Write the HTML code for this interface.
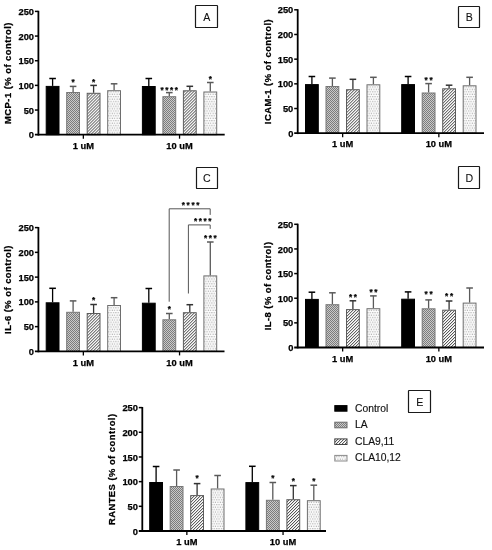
<!DOCTYPE html>
<html><head><meta charset="utf-8"><title>Figure</title>
<style>
html,body{margin:0;padding:0;background:#fff;}
body{width:492px;height:550px;overflow:hidden;}
svg{display:block;}
.tk{font-family:"Liberation Sans",sans-serif;font-weight:bold;font-size:9.3px;fill:#000;stroke:#000;stroke-width:0.25px;}
.yl{font-family:"Liberation Sans",sans-serif;font-weight:bold;font-size:9.4px;letter-spacing:0.48px;fill:#000;stroke:#000;stroke-width:0.25px;}
.st{font-family:"Liberation Sans",sans-serif;font-weight:bold;font-size:8.2px;fill:#000;stroke:#000;stroke-width:0.2px;letter-spacing:1.6px;}
.bx{font-family:"Liberation Sans",sans-serif;font-size:11.8px;fill:#111;stroke:#111;stroke-width:0.1px;}
.lg{font-family:"Liberation Sans",sans-serif;font-size:10.3px;fill:#111;stroke:#111;stroke-width:0.15px;}
</style></head>
<body>
<svg width="492" height="550" viewBox="0 0 492 550">
<defs>
<pattern id="pLA" width="2" height="2" patternUnits="userSpaceOnUse">
<rect width="2" height="2" fill="#cacaca"/><rect width="1" height="1" fill="#7c7c7c"/><rect x="1" y="1" width="1" height="1" fill="#7c7c7c"/>
</pattern>
<pattern id="pC911" width="2.12" height="2.12" patternUnits="userSpaceOnUse" patternTransform="rotate(45)">
<rect width="2.12" height="2.12" fill="#fff"/><rect width="0.85" height="2.12" fill="#555"/>
</pattern>
<pattern id="pC1012" width="2.4" height="4.8" patternUnits="userSpaceOnUse">
<rect width="2.4" height="4.8" fill="#fcfcfc"/><rect x="0.2" y="0.2" width="1" height="1" fill="#979797"/><rect x="1.4" y="2.6" width="1" height="1" fill="#979797"/>
</pattern>
</defs>
<rect width="492" height="550" fill="#fff"/>
<g>
<line x1="52.6" y1="85.9" x2="52.6" y2="78.5" stroke="#000" stroke-width="1.3"/>
<line x1="49.3" y1="78.5" x2="55.9" y2="78.5" stroke="#000" stroke-width="1.5"/>
<rect x="46.2" y="86.4" width="12.8" height="48.3" fill="#000" stroke="#000" stroke-width="1"/>
<line x1="73.1" y1="92" x2="73.1" y2="86.4" stroke="#5a5a5a" stroke-width="1.3"/>
<line x1="69.8" y1="86.4" x2="76.4" y2="86.4" stroke="#5a5a5a" stroke-width="1.5"/>
<rect x="66.7" y="92.5" width="12.8" height="42.2" fill="url(#pLA)" stroke="#777" stroke-width="1"/>
<text x="73.9" y="85" class="st" text-anchor="middle">*</text>
<line x1="93.6" y1="92.8" x2="93.6" y2="85.4" stroke="#333" stroke-width="1.3"/>
<line x1="90.3" y1="85.4" x2="96.9" y2="85.4" stroke="#333" stroke-width="1.5"/>
<rect x="87.2" y="93.3" width="12.8" height="41.4" fill="url(#pC911)" stroke="#5c5c5c" stroke-width="1"/>
<text x="94.4" y="85" class="st" text-anchor="middle">*</text>
<line x1="114.1" y1="90.2" x2="114.1" y2="83.8" stroke="#5a5a5a" stroke-width="1.3"/>
<line x1="110.8" y1="83.8" x2="117.4" y2="83.8" stroke="#5a5a5a" stroke-width="1.5"/>
<rect x="107.7" y="90.7" width="12.8" height="44" fill="url(#pC1012)" stroke="#6e6e6e" stroke-width="1"/>
<line x1="148.8" y1="86" x2="148.8" y2="78.5" stroke="#000" stroke-width="1.3"/>
<line x1="145.5" y1="78.5" x2="152.1" y2="78.5" stroke="#000" stroke-width="1.5"/>
<rect x="142.4" y="86.5" width="12.8" height="48.2" fill="#000" stroke="#000" stroke-width="1"/>
<line x1="169.3" y1="96.2" x2="169.3" y2="92.6" stroke="#5a5a5a" stroke-width="1.3"/>
<line x1="166" y1="92.6" x2="172.6" y2="92.6" stroke="#5a5a5a" stroke-width="1.5"/>
<rect x="162.9" y="96.7" width="12.8" height="38" fill="url(#pLA)" stroke="#777" stroke-width="1"/>
<text x="170.1" y="93" class="st" text-anchor="middle">****</text>
<line x1="189.8" y1="90.3" x2="189.8" y2="86.3" stroke="#333" stroke-width="1.3"/>
<line x1="186.5" y1="86.3" x2="193.1" y2="86.3" stroke="#333" stroke-width="1.5"/>
<rect x="183.4" y="90.8" width="12.8" height="43.9" fill="url(#pC911)" stroke="#5c5c5c" stroke-width="1"/>
<line x1="210.3" y1="91.5" x2="210.3" y2="82.5" stroke="#5a5a5a" stroke-width="1.3"/>
<line x1="207" y1="82.5" x2="213.6" y2="82.5" stroke="#5a5a5a" stroke-width="1.5"/>
<rect x="203.9" y="92" width="12.8" height="42.7" fill="url(#pC1012)" stroke="#6e6e6e" stroke-width="1"/>
<text x="211.1" y="82.1" class="st" text-anchor="middle">*</text>
<line x1="38.4" y1="10.8" x2="38.4" y2="135.6" stroke="#000" stroke-width="1.8"/>
<line x1="34.9" y1="134.7" x2="224.7" y2="134.7" stroke="#000" stroke-width="1.8"/>
<text x="34" y="138.3" class="tk" text-anchor="end">0</text>
<line x1="34.9" y1="110.04" x2="38.4" y2="110.04" stroke="#000" stroke-width="1.5"/>
<text x="34" y="113.64" class="tk" text-anchor="end">50</text>
<line x1="34.9" y1="85.38" x2="38.4" y2="85.38" stroke="#000" stroke-width="1.5"/>
<text x="34" y="88.98" class="tk" text-anchor="end">100</text>
<line x1="34.9" y1="60.72" x2="38.4" y2="60.72" stroke="#000" stroke-width="1.5"/>
<text x="34" y="64.32" class="tk" text-anchor="end">150</text>
<line x1="34.9" y1="36.06" x2="38.4" y2="36.06" stroke="#000" stroke-width="1.5"/>
<text x="34" y="39.66" class="tk" text-anchor="end">200</text>
<line x1="34.9" y1="11.4" x2="38.4" y2="11.4" stroke="#000" stroke-width="1.5"/>
<text x="34" y="15" class="tk" text-anchor="end">250</text>
<line x1="83.35" y1="134.7" x2="83.35" y2="138.7" stroke="#000" stroke-width="1.3"/>
<text x="83.35" y="148.6" class="tk" text-anchor="middle">1 uM</text>
<line x1="179.55" y1="134.7" x2="179.55" y2="138.7" stroke="#000" stroke-width="1.3"/>
<text x="179.55" y="148.6" class="tk" text-anchor="middle">10 uM</text>
<text transform="translate(11.3,73.05) rotate(-90)" class="yl" text-anchor="middle">MCP-1 (% of control)</text>
<rect x="195.5" y="5.5" width="22" height="22" rx="0.6" fill="#fff" stroke="#1a1a1a" stroke-width="1.2"/>
<text transform="translate(206.7,21.15) scale(0.9,1)" class="bx" text-anchor="middle">A</text>
</g>
<g>
<line x1="311.9" y1="84.1" x2="311.9" y2="76.5" stroke="#000" stroke-width="1.3"/>
<line x1="308.6" y1="76.5" x2="315.2" y2="76.5" stroke="#000" stroke-width="1.5"/>
<rect x="305.5" y="84.6" width="12.8" height="48.6" fill="#000" stroke="#000" stroke-width="1"/>
<line x1="332.4" y1="86" x2="332.4" y2="78.1" stroke="#5a5a5a" stroke-width="1.3"/>
<line x1="329.1" y1="78.1" x2="335.7" y2="78.1" stroke="#5a5a5a" stroke-width="1.5"/>
<rect x="326" y="86.5" width="12.8" height="46.7" fill="url(#pLA)" stroke="#777" stroke-width="1"/>
<line x1="352.9" y1="89.2" x2="352.9" y2="79.3" stroke="#333" stroke-width="1.3"/>
<line x1="349.6" y1="79.3" x2="356.2" y2="79.3" stroke="#333" stroke-width="1.5"/>
<rect x="346.5" y="89.7" width="12.8" height="43.5" fill="url(#pC911)" stroke="#5c5c5c" stroke-width="1"/>
<line x1="373.4" y1="84.3" x2="373.4" y2="77.3" stroke="#5a5a5a" stroke-width="1.3"/>
<line x1="370.1" y1="77.3" x2="376.7" y2="77.3" stroke="#5a5a5a" stroke-width="1.5"/>
<rect x="367" y="84.8" width="12.8" height="48.4" fill="url(#pC1012)" stroke="#6e6e6e" stroke-width="1"/>
<line x1="408.1" y1="84.1" x2="408.1" y2="76.5" stroke="#000" stroke-width="1.3"/>
<line x1="404.8" y1="76.5" x2="411.4" y2="76.5" stroke="#000" stroke-width="1.5"/>
<rect x="401.7" y="84.6" width="12.8" height="48.6" fill="#000" stroke="#000" stroke-width="1"/>
<line x1="428.6" y1="92.5" x2="428.6" y2="83.6" stroke="#5a5a5a" stroke-width="1.3"/>
<line x1="425.3" y1="83.6" x2="431.9" y2="83.6" stroke="#5a5a5a" stroke-width="1.5"/>
<rect x="422.2" y="93" width="12.8" height="40.2" fill="url(#pLA)" stroke="#777" stroke-width="1"/>
<text x="429.4" y="82.9" class="st" text-anchor="middle">**</text>
<line x1="449.1" y1="88.3" x2="449.1" y2="85.2" stroke="#333" stroke-width="1.3"/>
<line x1="445.8" y1="85.2" x2="452.4" y2="85.2" stroke="#333" stroke-width="1.5"/>
<rect x="442.7" y="88.8" width="12.8" height="44.4" fill="url(#pC911)" stroke="#5c5c5c" stroke-width="1"/>
<line x1="469.6" y1="85.3" x2="469.6" y2="77.3" stroke="#5a5a5a" stroke-width="1.3"/>
<line x1="466.3" y1="77.3" x2="472.9" y2="77.3" stroke="#5a5a5a" stroke-width="1.5"/>
<rect x="463.2" y="85.8" width="12.8" height="47.4" fill="url(#pC1012)" stroke="#6e6e6e" stroke-width="1"/>
<line x1="297.7" y1="9.2" x2="297.7" y2="134.1" stroke="#000" stroke-width="1.8"/>
<line x1="294.2" y1="133.2" x2="484" y2="133.2" stroke="#000" stroke-width="1.8"/>
<text x="293.3" y="136.8" class="tk" text-anchor="end">0</text>
<line x1="294.2" y1="108.52" x2="297.7" y2="108.52" stroke="#000" stroke-width="1.5"/>
<text x="293.3" y="112.12" class="tk" text-anchor="end">50</text>
<line x1="294.2" y1="83.84" x2="297.7" y2="83.84" stroke="#000" stroke-width="1.5"/>
<text x="293.3" y="87.44" class="tk" text-anchor="end">100</text>
<line x1="294.2" y1="59.16" x2="297.7" y2="59.16" stroke="#000" stroke-width="1.5"/>
<text x="293.3" y="62.76" class="tk" text-anchor="end">150</text>
<line x1="294.2" y1="34.48" x2="297.7" y2="34.48" stroke="#000" stroke-width="1.5"/>
<text x="293.3" y="38.08" class="tk" text-anchor="end">200</text>
<line x1="294.2" y1="9.8" x2="297.7" y2="9.8" stroke="#000" stroke-width="1.5"/>
<text x="293.3" y="13.4" class="tk" text-anchor="end">250</text>
<line x1="342.65" y1="133.2" x2="342.65" y2="137.2" stroke="#000" stroke-width="1.3"/>
<text x="342.65" y="147" class="tk" text-anchor="middle">1 uM</text>
<line x1="438.85" y1="133.2" x2="438.85" y2="137.2" stroke="#000" stroke-width="1.3"/>
<text x="438.85" y="147" class="tk" text-anchor="middle">10 uM</text>
<text transform="translate(270.6,71.5) rotate(-90)" class="yl" text-anchor="middle">ICAM-1 (% of control)</text>
<rect x="458.5" y="6.5" width="21" height="21" rx="0.6" fill="#fff" stroke="#1a1a1a" stroke-width="1.2"/>
<text transform="translate(469.2,21.25) scale(0.9,1)" class="bx" text-anchor="middle">B</text>
</g>
<g>
<line x1="52.6" y1="302.3" x2="52.6" y2="288.3" stroke="#000" stroke-width="1.3"/>
<line x1="49.3" y1="288.3" x2="55.9" y2="288.3" stroke="#000" stroke-width="1.5"/>
<rect x="46.2" y="302.8" width="12.8" height="48.6" fill="#000" stroke="#000" stroke-width="1"/>
<line x1="73.1" y1="311.8" x2="73.1" y2="300.9" stroke="#5a5a5a" stroke-width="1.3"/>
<line x1="69.8" y1="300.9" x2="76.4" y2="300.9" stroke="#5a5a5a" stroke-width="1.5"/>
<rect x="66.7" y="312.3" width="12.8" height="39.1" fill="url(#pLA)" stroke="#777" stroke-width="1"/>
<line x1="93.6" y1="313" x2="93.6" y2="304.5" stroke="#333" stroke-width="1.3"/>
<line x1="90.3" y1="304.5" x2="96.9" y2="304.5" stroke="#333" stroke-width="1.5"/>
<rect x="87.2" y="313.5" width="12.8" height="37.9" fill="url(#pC911)" stroke="#5c5c5c" stroke-width="1"/>
<text x="94.4" y="303.1" class="st" text-anchor="middle">*</text>
<line x1="114.1" y1="305" x2="114.1" y2="297.7" stroke="#5a5a5a" stroke-width="1.3"/>
<line x1="110.8" y1="297.7" x2="117.4" y2="297.7" stroke="#5a5a5a" stroke-width="1.5"/>
<rect x="107.7" y="305.5" width="12.8" height="45.9" fill="url(#pC1012)" stroke="#6e6e6e" stroke-width="1"/>
<line x1="148.8" y1="302.7" x2="148.8" y2="288.5" stroke="#000" stroke-width="1.3"/>
<line x1="145.5" y1="288.5" x2="152.1" y2="288.5" stroke="#000" stroke-width="1.5"/>
<rect x="142.4" y="303.2" width="12.8" height="48.2" fill="#000" stroke="#000" stroke-width="1"/>
<line x1="169.3" y1="319.3" x2="169.3" y2="313.5" stroke="#5a5a5a" stroke-width="1.3"/>
<line x1="166" y1="313.5" x2="172.6" y2="313.5" stroke="#5a5a5a" stroke-width="1.5"/>
<rect x="162.9" y="319.8" width="12.8" height="31.6" fill="url(#pLA)" stroke="#777" stroke-width="1"/>
<text x="170.1" y="312.1" class="st" text-anchor="middle">*</text>
<line x1="189.8" y1="312.2" x2="189.8" y2="304.7" stroke="#333" stroke-width="1.3"/>
<line x1="186.5" y1="304.7" x2="193.1" y2="304.7" stroke="#333" stroke-width="1.5"/>
<rect x="183.4" y="312.7" width="12.8" height="38.7" fill="url(#pC911)" stroke="#5c5c5c" stroke-width="1"/>
<line x1="210.3" y1="275.4" x2="210.3" y2="242" stroke="#5a5a5a" stroke-width="1.3"/>
<line x1="207" y1="242" x2="213.6" y2="242" stroke="#5a5a5a" stroke-width="1.5"/>
<rect x="203.9" y="275.9" width="12.8" height="75.5" fill="url(#pC1012)" stroke="#6e6e6e" stroke-width="1"/>
<text x="211.1" y="240.6" class="st" text-anchor="middle">***</text>
<line x1="38.4" y1="227" x2="38.4" y2="352.3" stroke="#000" stroke-width="1.8"/>
<line x1="34.9" y1="351.4" x2="224.5" y2="351.4" stroke="#000" stroke-width="1.8"/>
<text x="34" y="355" class="tk" text-anchor="end">0</text>
<line x1="34.9" y1="326.64" x2="38.4" y2="326.64" stroke="#000" stroke-width="1.5"/>
<text x="34" y="330.24" class="tk" text-anchor="end">50</text>
<line x1="34.9" y1="301.88" x2="38.4" y2="301.88" stroke="#000" stroke-width="1.5"/>
<text x="34" y="305.48" class="tk" text-anchor="end">100</text>
<line x1="34.9" y1="277.12" x2="38.4" y2="277.12" stroke="#000" stroke-width="1.5"/>
<text x="34" y="280.72" class="tk" text-anchor="end">150</text>
<line x1="34.9" y1="252.36" x2="38.4" y2="252.36" stroke="#000" stroke-width="1.5"/>
<text x="34" y="255.96" class="tk" text-anchor="end">200</text>
<line x1="34.9" y1="227.6" x2="38.4" y2="227.6" stroke="#000" stroke-width="1.5"/>
<text x="34" y="231.2" class="tk" text-anchor="end">250</text>
<line x1="83.35" y1="351.4" x2="83.35" y2="355.4" stroke="#000" stroke-width="1.3"/>
<text x="83.35" y="365.6" class="tk" text-anchor="middle">1 uM</text>
<line x1="179.55" y1="351.4" x2="179.55" y2="355.4" stroke="#000" stroke-width="1.3"/>
<text x="179.55" y="365.6" class="tk" text-anchor="middle">10 uM</text>
<text transform="translate(11.3,289.5) rotate(-90)" class="yl" text-anchor="middle">IL-6 (% of control)</text>
<rect x="196.5" y="167.5" width="21" height="21" rx="0.6" fill="#fff" stroke="#1a1a1a" stroke-width="1.2"/>
<text transform="translate(206.95,182.25) scale(0.9,1)" class="bx" text-anchor="middle">C</text>
</g>
<g>
<line x1="311.9" y1="298.9" x2="311.9" y2="292.2" stroke="#000" stroke-width="1.3"/>
<line x1="308.6" y1="292.2" x2="315.2" y2="292.2" stroke="#000" stroke-width="1.5"/>
<rect x="305.5" y="299.4" width="12.8" height="48.1" fill="#000" stroke="#000" stroke-width="1"/>
<line x1="332.4" y1="304.2" x2="332.4" y2="292.8" stroke="#5a5a5a" stroke-width="1.3"/>
<line x1="329.1" y1="292.8" x2="335.7" y2="292.8" stroke="#5a5a5a" stroke-width="1.5"/>
<rect x="326" y="304.7" width="12.8" height="42.8" fill="url(#pLA)" stroke="#777" stroke-width="1"/>
<line x1="352.9" y1="309.1" x2="352.9" y2="300.8" stroke="#333" stroke-width="1.3"/>
<line x1="349.6" y1="300.8" x2="356.2" y2="300.8" stroke="#333" stroke-width="1.5"/>
<rect x="346.5" y="309.6" width="12.8" height="37.9" fill="url(#pC911)" stroke="#5c5c5c" stroke-width="1"/>
<text x="353.7" y="299.8" class="st" text-anchor="middle">**</text>
<line x1="373.4" y1="308.2" x2="373.4" y2="295.9" stroke="#5a5a5a" stroke-width="1.3"/>
<line x1="370.1" y1="295.9" x2="376.7" y2="295.9" stroke="#5a5a5a" stroke-width="1.5"/>
<rect x="367" y="308.7" width="12.8" height="38.8" fill="url(#pC1012)" stroke="#6e6e6e" stroke-width="1"/>
<text x="374.2" y="294.9" class="st" text-anchor="middle">**</text>
<line x1="408.1" y1="298.7" x2="408.1" y2="291.9" stroke="#000" stroke-width="1.3"/>
<line x1="404.8" y1="291.9" x2="411.4" y2="291.9" stroke="#000" stroke-width="1.5"/>
<rect x="401.7" y="299.2" width="12.8" height="48.3" fill="#000" stroke="#000" stroke-width="1"/>
<line x1="428.6" y1="308.3" x2="428.6" y2="299.9" stroke="#5a5a5a" stroke-width="1.3"/>
<line x1="425.3" y1="299.9" x2="431.9" y2="299.9" stroke="#5a5a5a" stroke-width="1.5"/>
<rect x="422.2" y="308.8" width="12.8" height="38.7" fill="url(#pLA)" stroke="#777" stroke-width="1"/>
<text x="429.4" y="296.9" class="st" text-anchor="middle">**</text>
<line x1="449.1" y1="309.7" x2="449.1" y2="301" stroke="#333" stroke-width="1.3"/>
<line x1="445.8" y1="301" x2="452.4" y2="301" stroke="#333" stroke-width="1.5"/>
<rect x="442.7" y="310.2" width="12.8" height="37.3" fill="url(#pC911)" stroke="#5c5c5c" stroke-width="1"/>
<text x="449.9" y="299.2" class="st" text-anchor="middle">**</text>
<line x1="469.6" y1="302.6" x2="469.6" y2="288" stroke="#5a5a5a" stroke-width="1.3"/>
<line x1="466.3" y1="288" x2="472.9" y2="288" stroke="#5a5a5a" stroke-width="1.5"/>
<rect x="463.2" y="303.1" width="12.8" height="44.4" fill="url(#pC1012)" stroke="#6e6e6e" stroke-width="1"/>
<line x1="297.7" y1="223.7" x2="297.7" y2="348.4" stroke="#000" stroke-width="1.8"/>
<line x1="294.2" y1="347.5" x2="484" y2="347.5" stroke="#000" stroke-width="1.8"/>
<text x="293.3" y="351.1" class="tk" text-anchor="end">0</text>
<line x1="294.2" y1="322.86" x2="297.7" y2="322.86" stroke="#000" stroke-width="1.5"/>
<text x="293.3" y="326.46" class="tk" text-anchor="end">50</text>
<line x1="294.2" y1="298.22" x2="297.7" y2="298.22" stroke="#000" stroke-width="1.5"/>
<text x="293.3" y="301.82" class="tk" text-anchor="end">100</text>
<line x1="294.2" y1="273.58" x2="297.7" y2="273.58" stroke="#000" stroke-width="1.5"/>
<text x="293.3" y="277.18" class="tk" text-anchor="end">150</text>
<line x1="294.2" y1="248.94" x2="297.7" y2="248.94" stroke="#000" stroke-width="1.5"/>
<text x="293.3" y="252.54" class="tk" text-anchor="end">200</text>
<line x1="294.2" y1="224.3" x2="297.7" y2="224.3" stroke="#000" stroke-width="1.5"/>
<text x="293.3" y="227.9" class="tk" text-anchor="end">250</text>
<line x1="342.65" y1="347.5" x2="342.65" y2="351.5" stroke="#000" stroke-width="1.3"/>
<text x="342.65" y="361.8" class="tk" text-anchor="middle">1 uM</text>
<line x1="438.85" y1="347.5" x2="438.85" y2="351.5" stroke="#000" stroke-width="1.3"/>
<text x="438.85" y="361.8" class="tk" text-anchor="middle">10 uM</text>
<text transform="translate(270.6,285.9) rotate(-90)" class="yl" text-anchor="middle">IL-8 (% of control)</text>
<rect x="458.5" y="166.5" width="21" height="22" rx="0.6" fill="#fff" stroke="#1a1a1a" stroke-width="1.2"/>
<text transform="translate(469.3,182.05) scale(0.9,1)" class="bx" text-anchor="middle">D</text>
</g>
<g>
<line x1="156.1" y1="482" x2="156.1" y2="466.5" stroke="#000" stroke-width="1.3"/>
<line x1="152.8" y1="466.5" x2="159.4" y2="466.5" stroke="#000" stroke-width="1.5"/>
<rect x="149.7" y="482.5" width="12.8" height="48.5" fill="#000" stroke="#000" stroke-width="1"/>
<line x1="176.6" y1="486" x2="176.6" y2="470" stroke="#5a5a5a" stroke-width="1.3"/>
<line x1="173.3" y1="470" x2="179.9" y2="470" stroke="#5a5a5a" stroke-width="1.5"/>
<rect x="170.2" y="486.5" width="12.8" height="44.5" fill="url(#pLA)" stroke="#777" stroke-width="1"/>
<line x1="197.1" y1="495.1" x2="197.1" y2="483.6" stroke="#333" stroke-width="1.3"/>
<line x1="193.8" y1="483.6" x2="200.4" y2="483.6" stroke="#333" stroke-width="1.5"/>
<rect x="190.7" y="495.6" width="12.8" height="35.4" fill="url(#pC911)" stroke="#5c5c5c" stroke-width="1"/>
<text x="197.9" y="480.7" class="st" text-anchor="middle">*</text>
<line x1="217.6" y1="488.5" x2="217.6" y2="475.5" stroke="#5a5a5a" stroke-width="1.3"/>
<line x1="214.3" y1="475.5" x2="220.9" y2="475.5" stroke="#5a5a5a" stroke-width="1.5"/>
<rect x="211.2" y="489" width="12.8" height="42" fill="url(#pC1012)" stroke="#6e6e6e" stroke-width="1"/>
<line x1="252.3" y1="482.1" x2="252.3" y2="466.3" stroke="#000" stroke-width="1.3"/>
<line x1="249" y1="466.3" x2="255.6" y2="466.3" stroke="#000" stroke-width="1.5"/>
<rect x="245.9" y="482.6" width="12.8" height="48.4" fill="#000" stroke="#000" stroke-width="1"/>
<line x1="272.8" y1="499.8" x2="272.8" y2="482.5" stroke="#5a5a5a" stroke-width="1.3"/>
<line x1="269.5" y1="482.5" x2="276.1" y2="482.5" stroke="#5a5a5a" stroke-width="1.5"/>
<rect x="266.4" y="500.3" width="12.8" height="30.7" fill="url(#pLA)" stroke="#777" stroke-width="1"/>
<text x="273.6" y="481.1" class="st" text-anchor="middle">*</text>
<line x1="293.3" y1="499.2" x2="293.3" y2="485.6" stroke="#333" stroke-width="1.3"/>
<line x1="290" y1="485.6" x2="296.6" y2="485.6" stroke="#333" stroke-width="1.5"/>
<rect x="286.9" y="499.7" width="12.8" height="31.3" fill="url(#pC911)" stroke="#5c5c5c" stroke-width="1"/>
<text x="294.1" y="484.4" class="st" text-anchor="middle">*</text>
<line x1="313.8" y1="500.2" x2="313.8" y2="485.2" stroke="#5a5a5a" stroke-width="1.3"/>
<line x1="310.5" y1="485.2" x2="317.1" y2="485.2" stroke="#5a5a5a" stroke-width="1.5"/>
<rect x="307.4" y="500.7" width="12.8" height="30.3" fill="url(#pC1012)" stroke="#6e6e6e" stroke-width="1"/>
<text x="314.6" y="484.4" class="st" text-anchor="middle">*</text>
<line x1="142.3" y1="407" x2="142.3" y2="531.9" stroke="#000" stroke-width="1.8"/>
<line x1="138.8" y1="531" x2="326" y2="531" stroke="#000" stroke-width="1.8"/>
<text x="137.9" y="534.6" class="tk" text-anchor="end">0</text>
<line x1="138.8" y1="506.32" x2="142.3" y2="506.32" stroke="#000" stroke-width="1.5"/>
<text x="137.9" y="509.92" class="tk" text-anchor="end">50</text>
<line x1="138.8" y1="481.64" x2="142.3" y2="481.64" stroke="#000" stroke-width="1.5"/>
<text x="137.9" y="485.24" class="tk" text-anchor="end">100</text>
<line x1="138.8" y1="456.96" x2="142.3" y2="456.96" stroke="#000" stroke-width="1.5"/>
<text x="137.9" y="460.56" class="tk" text-anchor="end">150</text>
<line x1="138.8" y1="432.28" x2="142.3" y2="432.28" stroke="#000" stroke-width="1.5"/>
<text x="137.9" y="435.88" class="tk" text-anchor="end">200</text>
<line x1="138.8" y1="407.6" x2="142.3" y2="407.6" stroke="#000" stroke-width="1.5"/>
<text x="137.9" y="411.2" class="tk" text-anchor="end">250</text>
<line x1="186.85" y1="531" x2="186.85" y2="535" stroke="#000" stroke-width="1.3"/>
<text x="186.85" y="544.9" class="tk" text-anchor="middle">1 uM</text>
<line x1="283.05" y1="531" x2="283.05" y2="535" stroke="#000" stroke-width="1.3"/>
<text x="283.05" y="544.9" class="tk" text-anchor="middle">10 uM</text>
<text transform="translate(114.7,469.3) rotate(-90)" class="yl" text-anchor="middle">RANTES (% of control)</text>
<rect x="408.5" y="390.5" width="22" height="22" rx="0.6" fill="#fff" stroke="#1a1a1a" stroke-width="1.2"/>
<text transform="translate(419.8,406.1) scale(0.9,1)" class="bx" text-anchor="middle">E</text>
</g>
<g fill="none" stroke="#555" stroke-width="1">
<polyline points="169.2,301.7 169.2,208.8 210.2,208.8 210.2,214.9"/>
<polyline points="188.4,293.5 188.4,224.9 210.2,224.9 210.2,228.9"/>
</g>
<text x="191.4" y="207.8" class="st" text-anchor="middle">****</text>
<text x="203.5" y="224.2" class="st" text-anchor="middle">****</text>
<rect x="334.8" y="405.6" width="12.2" height="5.6" fill="#000" stroke="#000" stroke-width="1"/>
<text x="355" y="411.6" class="lg">Control</text>
<rect x="334.8" y="422.2" width="12.2" height="5.6" fill="url(#pLA)" stroke="#6a6a6a" stroke-width="1"/>
<text x="355" y="428.2" class="lg">LA</text>
<rect x="334.8" y="438.9" width="12.2" height="5.6" fill="url(#pC911)" stroke="#444" stroke-width="1"/>
<text x="355" y="444.9" class="lg">CLA9,11</text>
<rect x="334.8" y="455.4" width="12.2" height="5.6" fill="url(#pC1012)" stroke="#8a8a8a" stroke-width="1"/>
<text x="355" y="461.4" class="lg">CLA10,12</text>
</svg>
</body></html>
